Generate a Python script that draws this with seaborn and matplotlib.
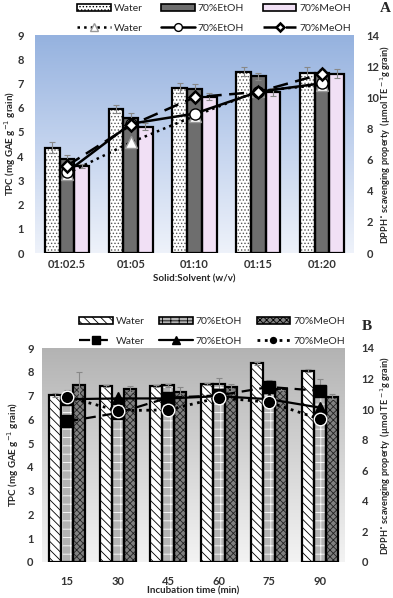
import numpy as np
import pandas as pd
import seaborn as sns
import matplotlib.pyplot as plt
from matplotlib.patches import Patch, Rectangle
from matplotlib.lines import Line2D
from matplotlib.colors import LinearSegmentedColormap

sns.set_theme(style="white")
plt.rcParams['font.family'] = ['Lato', 'DejaVu Sans']
plt.rcParams['hatch.linewidth'] = 0.6

solvents = ['Water', '70%EtOH', '70%MeOH']

# Panel A: solid:solvent ratio
ratios = ['01:02.5', '01:05', '01:10', '01:15', '01:20']
tpc_a_water = [4.35, 5.95, 6.80, 7.48, 7.45]
tpc_a_etoh = [3.90, 5.58, 6.78, 7.30, 7.45]
tpc_a_meoh = [3.58, 5.22, 6.45, 6.65, 7.40]
err_a_water = [0.22, 0.18, 0.20, 0.18, 0.22]
err_a_etoh = [0.15, 0.18, 0.18, 0.15, 0.15]
err_a_meoh = [0.08, 0.15, 0.15, 0.15, 0.18]
dpph_a_water = [5.1, 7.1, 8.8, 10.4, 10.8]
dpph_a_etoh = [5.2, 8.3, 8.95, 10.35, 10.9]
dpph_a_meoh = [5.6, 8.2, 10.0, 10.35, 11.5]

# Panel B: incubation time
times = ['15', '30', '45', '60', '75', '90']
tpc_b_water = [7.02, 7.40, 7.40, 7.48, 8.35, 8.05]
tpc_b_etoh = [7.00, 6.85, 7.43, 7.48, 7.45, 7.38]
tpc_b_meoh = [7.45, 7.28, 7.15, 7.35, 7.27, 6.96]
err_b_water = [0.08, 0.05, 0.05, 0.05, 0.05, 0.05]
err_b_etoh = [0.25, 0.10, 0.05, 0.25, 0.20, 0.30]
err_b_meoh = [0.55, 0.12, 0.20, 0.15, 0.05, 0.12]
dpph_b_water = [9.2, 9.75, 10.75, 10.9, 11.45, 11.2]
dpph_b_etoh = [10.65, 10.7, 10.7, 10.85, 10.65, 10.1]
dpph_b_meoh = [10.8, 9.9, 9.95, 10.75, 10.45, 9.35]

bars_a = [dict(fc='white', hc='#555555', hatch='.....'),
          dict(fc='#6e6e6e', hc='#6e6e6e', hatch=None),
          dict(fc='#f1e0f5', hc='#f1e0f5', hatch=None)]
bars_b = [dict(fc='white', hc='black', hatch='\\\\\\\\'),
          dict(fc='#b4b4b4', hc='white', hatch='++'),
          dict(fc='#808080', hc='#222222', hatch='xxxxx')]
lines_a = [dict(ls=':', marker='^', mfc='white', mec='#999999', ms=9, lw=1.8),
           dict(ls='-', marker='o', mfc='white', mec='black', ms=8, lw=1.8),
           dict(ls=(0, (6, 3)), marker='D', mfc='white', mec='black', ms=6.5, lw=1.8, mew=1.8)]
lines_b = [dict(ls=(0, (5, 3)), marker='s', mfc='black', mec='black', ms=8, lw=1.6),
           dict(ls='-', marker='^', mfc='black', mec='black', ms=8, lw=1.6),
           dict(ls=':', marker='o', mfc='black', mec='white', ms=9, lw=2.0)]

rlabel = 'DPPH$^{\\bullet}$ scavenging property  (µmol TE $^{-1}$g grain)'
W, H = 393, 598


def panel(fig, box, cats, tpc, err, dpph, bar_styles, line_styles, colors,
          xlabel, lpad, rpad, xpad, width, ylab_px, rlab_px, xlab_px):
    left, top, right, bottom = box
    rect = [left / W, 1 - bottom / H, (right - left) / W, (bottom - top) / H]
    bg = fig.add_axes(rect, zorder=-1)
    cmap = LinearSegmentedColormap.from_list('bg', colors)
    bg.imshow(np.linspace(1, 0, 200)[:, None], aspect='auto', cmap=cmap,
              extent=[0, 1, 0, 1])
    bg.axis('off')

    ax = fig.add_axes(rect)
    ax.patch.set_visible(False)
    df = pd.DataFrame({'cat': cats * 3,
                       'tpc': sum(tpc, []),
                       'solvent': [s for s in solvents for _ in cats]})
    sns.barplot(data=df, x='cat', y='tpc', hue='solvent', order=cats,
                hue_order=solvents, width=width, gap=0, errorbar=None,
                legend=False, ax=ax)
    bar_conts = list(ax.containers)
    for i, cont in enumerate(bar_conts):
        st = bar_styles[i]
        xs, hs = [], []
        for p in cont.patches:
            p.set_facecolor(st['fc'])
            p.set_edgecolor(st['hc'])
            p.set_linewidth(0)
            if st['hatch']:
                p.set_hatch(st['hatch'])
            ax.add_patch(Rectangle(p.get_xy(), p.get_width(), p.get_height(),
                                   fill=False, ec='black', lw=1.6, zorder=3))
            xs.append(p.get_x() + p.get_width() / 2)
            hs.append(p.get_height())
        ax.errorbar(xs, hs, yerr=err[i], fmt='none', ecolor='#888888',
                    elinewidth=0.8, capsize=2.5, capthick=0.8, zorder=4)
    ax.set_ylim(0, 9)
    ax.set_xlim(-0.5, len(cats) - 0.5)
    ax.set_yticks(range(10))
    ax.set_xlabel(xlabel, fontsize=7, fontweight='bold', va='center')
    ax.set_ylabel('TPC (mg GAE g$^{-1}$ grain)', fontsize=7, fontweight='bold', va='center')
    ax.yaxis.set_label_coords((ylab_px - left) / (right - left), 0.5)
    ax.xaxis.set_label_coords(0.5, (bottom - xlab_px) / (bottom - top))
    ax.tick_params(axis='both', length=0, labelsize=8, colors='#333333')
    ax.tick_params(axis='y', pad=lpad)
    ax.tick_params(axis='x', pad=xpad)
    for lab in ax.get_xticklabels() + ax.get_yticklabels():
        lab.set_fontweight('bold')
    sns.despine(ax=ax, left=True, bottom=True)

    ax2 = ax.twinx()
    x = np.arange(len(cats))
    for i, st in enumerate(line_styles):
        ax2.plot(x, dpph[i], color='black', zorder=5, **st)
    ax2.set_ylim(0, 14)
    ax2.set_yticks(range(0, 15, 2))
    ax2.tick_params(axis='y', length=0, labelsize=8, colors='#333333', pad=rpad)
    for lab in ax2.get_yticklabels():
        lab.set_fontweight('bold')
    ax2.set_ylabel(rlabel, fontsize=6.6, fontweight='bold', va='center')
    ax2.yaxis.set_label_coords((rlab_px - left) / (right - left), 0.5)
    sns.despine(ax=ax2, left=True, bottom=True, right=True)

    handles = []
    for i in range(3):
        b = bar_styles[i]
        handles.append(Patch(facecolor=b['fc'], edgecolor='black',
                             hatch=b['hatch'], lw=1.2, label=solvents[i]))
        handles.append(Line2D([], [], color='black', **line_styles[i], label=solvents[i]))
    return ax, handles


fig = plt.figure(figsize=(3.93, 5.98), dpi=100)

ax_a, h_a = panel(fig, (35, 35, 354, 253), ratios,
                  [tpc_a_water, tpc_a_etoh, tpc_a_meoh],
                  [err_a_water, err_a_etoh, err_a_meoh],
                  [dpph_a_water, dpph_a_etoh, dpph_a_meoh], bars_a, lines_a,
                  ['#eef2fa', '#c3d3ee', '#95b2df'], 'Solid:Solvent (w/v)',
                  8, 9, 4, 0.69, 10, 386, 279)
fig.legend(handles=h_a, ncol=3, loc='upper left', bbox_to_anchor=(73 / W, 1),
           frameon=False, fontsize=7.5, handlelength=3.2, columnspacing=1.8,
           handletextpad=0.3, labelspacing=0.95, borderaxespad=0, markerscale=0.7)
fig.text(385 / W, 1 - 8 / H, 'A', fontsize=11, fontweight='bold',
         family='Liberation Serif', ha='center', va='center')

ax_b, h_b = panel(fig, (42, 348, 345, 562), times,
                  [tpc_b_water, tpc_b_etoh, tpc_b_meoh],
                  [err_b_water, err_b_etoh, err_b_meoh],
                  [dpph_b_water, dpph_b_etoh, dpph_b_meoh], bars_b, lines_b,
                  ['#f3f3f3', '#d4d4d4', '#b3b3b3'], 'Incubation time (min)',
                  6, 12, 10, 0.72, 13, 386, 591)
fig.legend(handles=h_b, ncol=3, loc='upper left', bbox_to_anchor=(75 / W, 1 - 313 / H),
           frameon=False, fontsize=7.5, handlelength=3.2, columnspacing=1.4,
           handletextpad=0.3, labelspacing=0.95, borderaxespad=0, markerscale=0.7)
fig.text(367 / W, 1 - 326 / H, 'B', fontsize=11, fontweight='bold',
         family='Liberation Serif', ha='center', va='center')

fig.savefig('out.png', dpi=100)
